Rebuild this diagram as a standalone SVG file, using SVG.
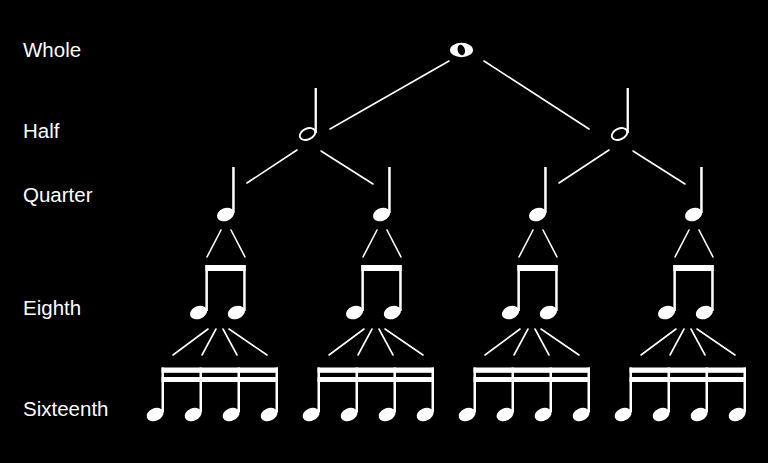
<svg xmlns="http://www.w3.org/2000/svg" xmlns:xlink="http://www.w3.org/1999/xlink" width="768" height="463" viewBox="0 0 768 463">
<style>
.lbl{font-family:"Liberation Sans",Arial,sans-serif;font-size:20.5px;fill:#fff}
.ln{stroke:#fff;stroke-width:1.6;fill:none;stroke-linecap:round}
.w{fill:#fff}
</style>
<defs>
<g id="halfNote">
<ellipse cx="307.5" cy="134" rx="8.2" ry="5.4" transform="rotate(-25 307.5 134)" fill="none" stroke="#fff" stroke-width="1.9"/>
<rect x="314.6" y="88" width="2.3" height="45" class="w"/>
</g>
<g id="quarterNote">
<ellipse cx="225.5" cy="214.5" rx="8.9" ry="6.4" transform="rotate(-22 225.5 214.5)" class="w"/>
<rect x="232.2" y="167" width="2.5" height="46" class="w"/>
</g>
<g id="eighthNote">
<ellipse cx="198.5" cy="312.5" rx="8.9" ry="6.4" transform="rotate(-22 198.5 312.5)" class="w"/>
<ellipse cx="236.3" cy="312.5" rx="8.9" ry="6.4" transform="rotate(-22 236.3 312.5)" class="w"/>
<rect x="205.4" y="265" width="2.5" height="46" class="w"/>
<rect x="243.2" y="265" width="2.5" height="46" class="w"/>
<rect x="205.4" y="265" width="40.3" height="6" class="w"/>
</g>
<g id="sixteenthNote">
<ellipse cx="155" cy="414.5" rx="8.7" ry="6.3" transform="rotate(-22 155 414.5)" class="w"/>
<ellipse cx="193" cy="414.5" rx="8.7" ry="6.3" transform="rotate(-22 193 414.5)" class="w"/>
<ellipse cx="231" cy="414.5" rx="8.7" ry="6.3" transform="rotate(-22 231 414.5)" class="w"/>
<ellipse cx="269" cy="414.5" rx="8.7" ry="6.3" transform="rotate(-22 269 414.5)" class="w"/>
<rect x="161.5" y="367.5" width="2.5" height="45" class="w"/>
<rect x="199.5" y="367.5" width="2.5" height="45" class="w"/>
<rect x="237.5" y="367.5" width="2.5" height="45" class="w"/>
<rect x="275.5" y="367.5" width="2.5" height="45" class="w"/>
<rect x="161.5" y="367.5" width="116.5" height="5.3" class="w"/>
<rect x="161.5" y="377" width="116.5" height="5" class="w"/>
</g>
<g id="qFan">
<line x1="221" y1="230" x2="207" y2="257"/>
<line x1="231" y1="230" x2="245" y2="257"/>
</g>
<g id="eFan">
<line x1="208" y1="329" x2="173" y2="355"/>
<line x1="216" y1="329" x2="202" y2="355"/>
<line x1="223" y1="329" x2="237" y2="355"/>
<line x1="229" y1="329" x2="267" y2="355"/>
</g>
</defs>
<rect width="768" height="463" fill="#000"/>
<g id="labels">
<text class="lbl" x="23" y="57">Whole</text>
<text class="lbl" x="23" y="138">Half</text>
<text class="lbl" x="23" y="202">Quarter</text>
<text class="lbl" x="23" y="315">Eighth</text>
<text class="lbl" x="23" y="416">Sixteenth</text>
</g>
<g id="connectors" class="ln">
<line x1="449" y1="61" x2="330" y2="129"/>
<line x1="484" y1="61" x2="589" y2="129"/>
<line x1="297" y1="150" x2="247" y2="183"/>
<line x1="321" y1="151" x2="373" y2="184"/>
<line x1="609" y1="150" x2="559" y2="183"/>
<line x1="633" y1="151" x2="685" y2="184"/>
<use xlink:href="#qFan"/>
<use xlink:href="#qFan" x="156"/>
<use xlink:href="#qFan" x="312"/>
<use xlink:href="#qFan" x="468"/>
<use xlink:href="#eFan"/>
<use xlink:href="#eFan" x="156"/>
<use xlink:href="#eFan" x="312"/>
<use xlink:href="#eFan" x="468"/>
</g>
<g id="whole">
<ellipse cx="461.5" cy="50" rx="11.5" ry="7.2" fill="#fff"/>
<ellipse cx="461.3" cy="50" rx="3.6" ry="5.4" transform="rotate(-15 461.3 50)" fill="#000"/>
</g>
<g id="half-1"><use xlink:href="#halfNote"/></g>
<g id="half-2"><use xlink:href="#halfNote" x="312"/></g>
<g id="quarter-1"><use xlink:href="#quarterNote"/></g>
<g id="quarter-2"><use xlink:href="#quarterNote" x="156"/></g>
<g id="quarter-3"><use xlink:href="#quarterNote" x="312"/></g>
<g id="quarter-4"><use xlink:href="#quarterNote" x="468"/></g>
<g id="eighth-1"><use xlink:href="#eighthNote"/></g>
<g id="eighth-2"><use xlink:href="#eighthNote" x="156"/></g>
<g id="eighth-3"><use xlink:href="#eighthNote" x="312"/></g>
<g id="eighth-4"><use xlink:href="#eighthNote" x="468"/></g>
<g id="sixteenth-1"><use xlink:href="#sixteenthNote"/></g>
<g id="sixteenth-2"><use xlink:href="#sixteenthNote" x="156"/></g>
<g id="sixteenth-3"><use xlink:href="#sixteenthNote" x="312"/></g>
<g id="sixteenth-4"><use xlink:href="#sixteenthNote" x="468"/></g>
</svg>
